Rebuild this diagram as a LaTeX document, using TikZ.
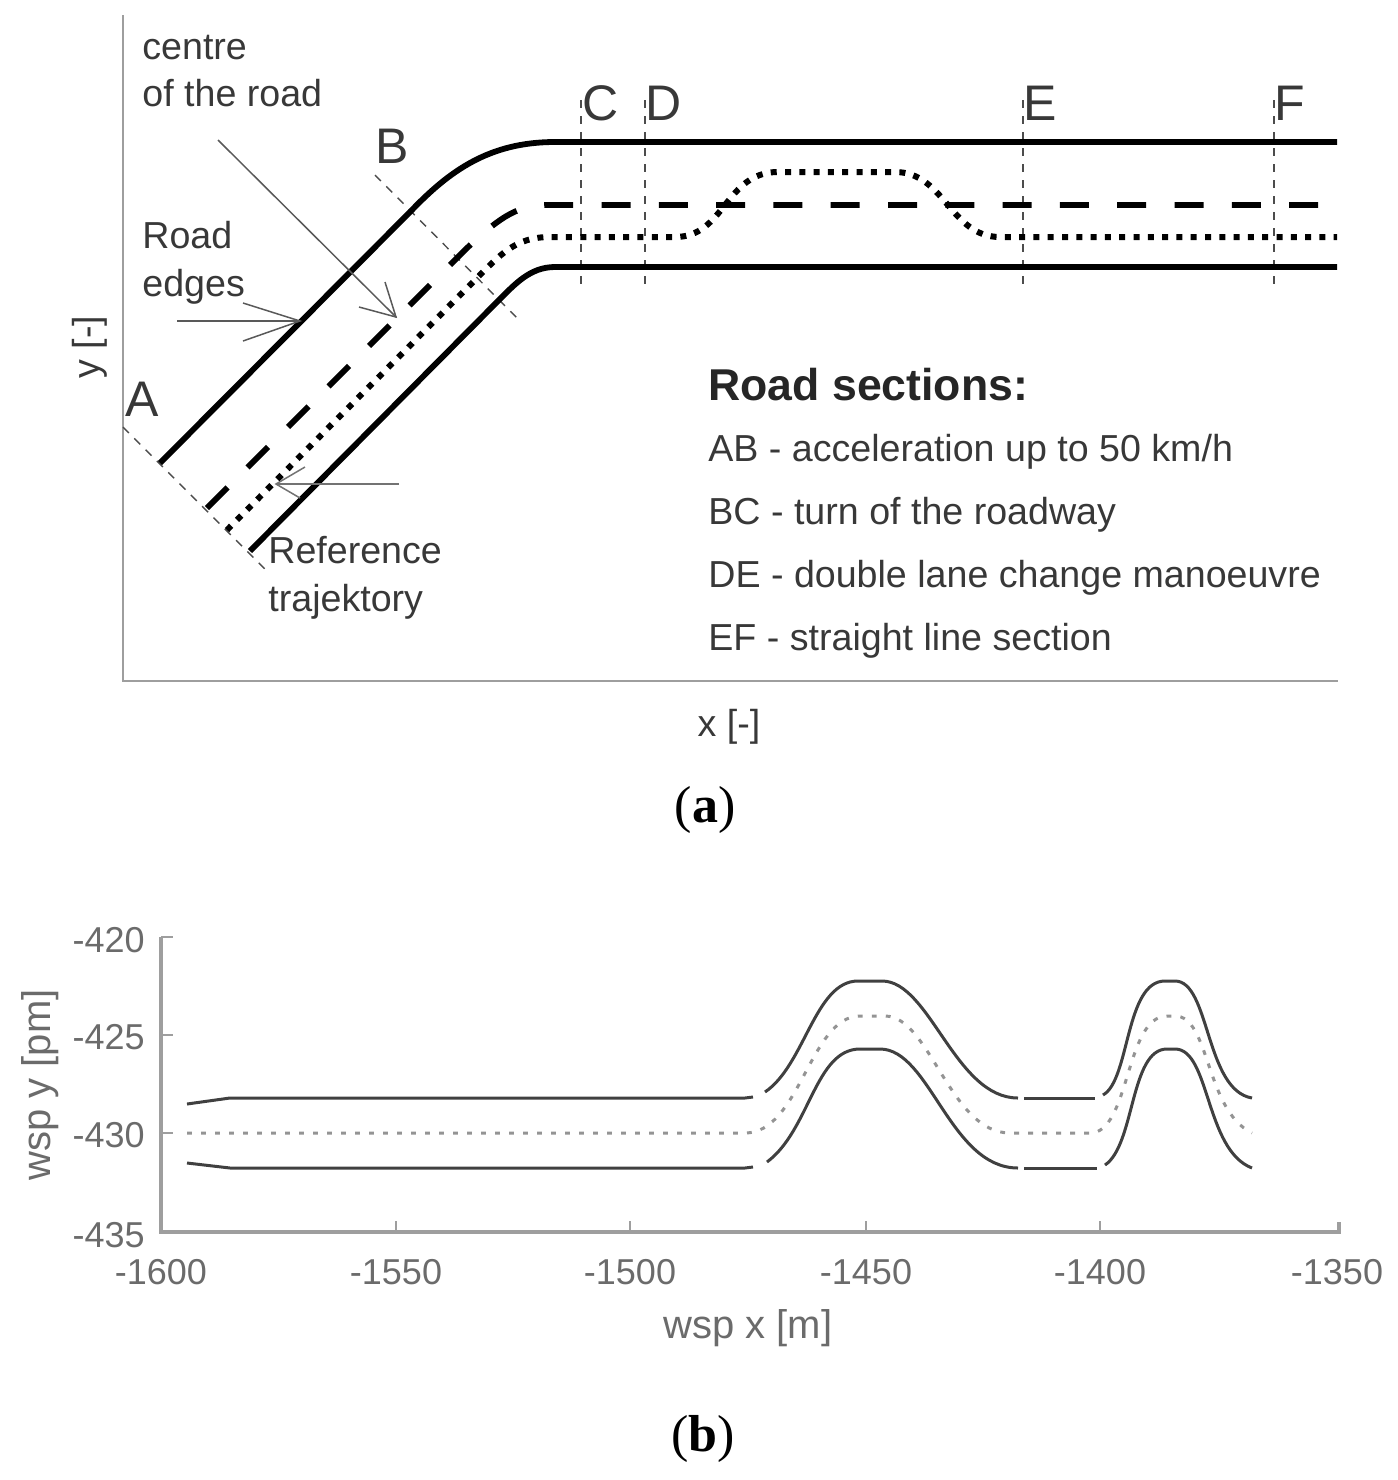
\documentclass[tikz,border=0pt]{standalone}
\usepackage{fontspec}
\setmainfont{Liberation Sans}
\newfontfamily\capfont{Liberation Serif}
\definecolor{txta}{gray}{0.22}
\definecolor{txtb}{gray}{0.42}
\definecolor{axisc}{gray}{0.62}
\tikzset{
 lbl/.style={text=txta,inner sep=0pt,font=\fontsize{18.8}{22}\selectfont,anchor=base west},
 letter/.style={text=txta,inner sep=0pt,font=\fontsize{25}{28}\selectfont},
 tickl/.style={text=txtb,inner sep=0pt,font=\fontsize{18}{22}\selectfont},
 axl/.style={text=txtb,inner sep=0pt,font=\fontsize{20}{24}\selectfont},
 caplbl/.style={inner sep=0pt,font=\capfont\fontsize{26}{30}\selectfont},
 axisline/.style={draw=axisc,line width=1.1pt},
 edgeline/.style={draw=black,line width=2.9pt},
 centreline/.style={draw=black,line width=2.9pt,dash pattern=on 14.5pt off 14.15pt},
 refline/.style={draw=black,line width=3pt,dash pattern=on 3pt off 4.15pt},
 secline/.style={draw=black!70,line width=0.7pt,dash pattern=on 4.2pt off 3.8pt},
 pointer/.style={draw=black!65,line width=0.75pt},
 bedge/.style={draw=black!75,line width=1.5pt},
 bref/.style={draw=black!42,line width=1.5pt,dash pattern=on 2.4pt off 4.6pt},
 btick/.style={draw=axisc,line width=0.8pt},
}
\begin{document}
\begin{tikzpicture}[x=0.5pt,y=-0.5pt]
\useasboundingbox (0,0) rectangle (1398,1480);
% ---- panel a
\draw[axisline] (123,15) -- (123,681) -- (1338,681);
\coordinate (ab1) at (123,427); \coordinate (ab2) at (268,572);
\coordinate (bb1) at (375,175); \coordinate (bb2) at (519,320);
\draw[secline] (ab1) -- (ab2);
\draw[secline] (bb1) -- (bb2);
\foreach \n/\x in {c/581,d/645,e/1023,f/1274}{
  \coordinate (\n1) at (\x,100); \coordinate (\n2) at (\x,291);
  \draw[secline] (\n1) -- (\n2);
}
\draw[edgeline] (160,463) -- (410,212) .. controls (450,170) and (490,142) .. (555,142) -- (1337,142);
\draw[edgeline] (250,551) -- (497,302) .. controls (515,284) and (530,267) .. (555,267) -- (1337,267);
\draw[centreline] (207,508) -- (467,248) .. controls (495,222) and (515,205) .. (545,205) -- (1337,205);
\draw[refline] (227,530) -- (475,280) .. controls (500,255) and (515,237) .. (550,237) -- (675,237)
  .. controls (725,237) and (725,172) .. (778,172) -- (895,172)
  .. controls (945,172) and (950,237) .. (1000,237) -- (1337,237);
% pointers
\coordinate (p1s) at (177,321); \coordinate (p1t) at (300,321);
\coordinate (p1a) at (243,303); \coordinate (p1b) at (243,341);
\draw[pointer] (p1s) -- (p1t); \draw[pointer] (p1a) -- (p1t) -- (p1b);
\coordinate (p2s) at (218,140); \coordinate (p2t) at (396,317);
\coordinate (p2a) at (385,282); \coordinate (p2b) at (359,307);
\draw[pointer] (p2s) -- (p2t); \draw[pointer] (p2a) -- (p2t) -- (p2b);
\coordinate (p3s) at (399,484); \coordinate (p3t) at (276,484);
\coordinate (p3a) at (305,467); \coordinate (p3b) at (300,498);
\draw[pointer,draw=black!55] (p3s) -- (p3t); \draw[pointer,draw=black!55] (p3a) -- (p3t) -- (p3b);
% labels
\node[lbl] (t1) at (142,59) {centre};
\node[lbl] (t2) at (142,106) {of the road};
\node[lbl] (t3) at (142,248) {Road};
\node[lbl] (t4) at (142,296) {edges};
\node[lbl] (t5) at (268,563) {Reference};
\node[lbl] (t6) at (268,611) {trajektory};
\node[letter] (la) at (142,399) {A};
\node[letter] (lb) at (392,146) {B};
\node[letter] (lc) at (601,103) {C};
\node[letter] (ld) at (664,103) {D};
\node[letter] (le) at (1040,103) {E};
\node[letter] (lf) at (1290,103) {F};
\node[lbl,font=\bfseries\fontsize{22.3}{26}\selectfont,text=black!85] (s0) at (708,400) {Road sections:};
\node[lbl] (s1) at (708,461) {AB - acceleration up to 50 km/h};
\node[lbl] (s2) at (708,524) {BC - turn of the roadway};
\node[lbl] (s3) at (708,587) {DE - double lane change manoeuvre};
\node[lbl] (s4) at (708,650) {EF - straight line section};
\node[lbl,anchor=center] (xa) at (729,727) {x [-]};
\node[lbl,anchor=center,rotate=90] (ya) at (90,347) {y [-]};
\node[caplbl] (capa) at (705,810) {(\textbf{a})};
% ---- panel b
\draw[axisline,line width=1.6pt] (161,937) -- (161,1232) -- (1339,1232) -- (1339,1222);
\foreach \y in {937,1035,1133}{
  \coordinate (ty) at (161,\y); \coordinate (tz) at (173,\y);
  \draw[btick] (ty) -- (tz);
}
\foreach \x in {396,630,866,1100}{
  \coordinate (tx) at (\x,1232); \coordinate (tw) at (\x,1221);
  \draw[btick] (tx) -- (tw);
}
\foreach \v/\y in {420/940,425/1037,430/1135,435/1235}{
  \node[tickl,anchor=east] at (145,\y) {-\v};
}
\foreach \v/\x in {1600/161,1550/396,1500/630,1450/866,1400/1100,1350/1337}{
  \node[tickl] at (\x,1272) {-\v};
}
\node[axl] (xb) at (748,1328) {wsp x [m]};
\node[axl,rotate=90] (yb) at (40,1085) {wsp y [pm]};
% upper edge
\draw[bedge] (187,1104) -- (230,1098) -- (745,1098) -- (753,1097);
\draw[bedge] (765,1092) .. controls (805,1065) and (815,981) .. (858,981) -- (882,981)
   .. controls (930,981) and (955,1098) .. (1018,1098);
\draw[bedge] (1024,1098) -- (1095,1098);
\draw[bedge] (1103,1095) .. controls (1130,1080) and (1125,981) .. (1165,981) -- (1175,981)
   .. controls (1210,981) and (1205,1090) .. (1252,1098);
% lower edge
\draw[bedge] (187,1163) -- (230,1168) -- (745,1168) -- (753,1167);
\draw[bedge] (767,1162) .. controls (810,1130) and (815,1049) .. (860,1049) -- (880,1049)
   .. controls (930,1049) and (950,1168) .. (1018,1168);
\draw[bedge] (1024,1168) -- (1097,1168);
\draw[bedge] (1105,1165) .. controls (1135,1145) and (1130,1049) .. (1167,1049) -- (1175,1049)
   .. controls (1210,1049) and (1205,1150) .. (1252,1168);
% reference
\draw[bref] (187,1133) -- (745,1133) .. controls (800,1133) and (810,1016) .. (860,1016) -- (885,1016)
   .. controls (930,1016) and (950,1133) .. (1010,1133) -- (1090,1133)
   .. controls (1130,1133) and (1125,1016) .. (1167,1016) -- (1175,1016)
   .. controls (1210,1016) and (1205,1110) .. (1252,1133);
\node[caplbl] (capb) at (703,1439) {(\textbf{b})};
\end{tikzpicture}
\end{document}
